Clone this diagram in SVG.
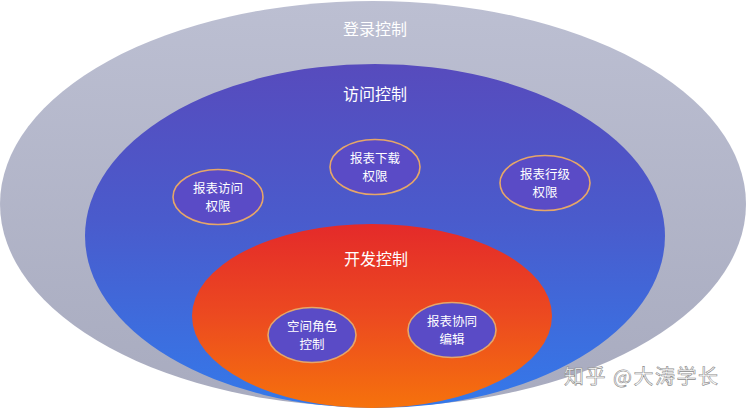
<svg xmlns="http://www.w3.org/2000/svg" width="746" height="408" viewBox="0 0 746 408">
<defs>
<linearGradient id="gOuter" x1="0" y1="0" x2="0" y2="1">
<stop offset="0" stop-color="#bcbfd2"/>
<stop offset="1" stop-color="#a8abbf"/>
</linearGradient>
<linearGradient id="gMid" x1="0" y1="0" x2="0" y2="1">
<stop offset="0" stop-color="#574bbd"/>
<stop offset="0.45" stop-color="#4a5bcc"/>
<stop offset="1" stop-color="#3479ea"/>
</linearGradient>
<linearGradient id="gInner" x1="0" y1="0" x2="0" y2="1">
<stop offset="0" stop-color="#e42a2a"/>
<stop offset="0.5" stop-color="#ec4a20"/>
<stop offset="1" stop-color="#f6720c"/>
</linearGradient>
<style>
.t{font-family:"Noto Sans CJK SC","Noto Sans",sans-serif;fill:#fff;text-anchor:middle}
.big{font-size:16px}
.sm{font-size:12.5px}
.node{fill:#5a4bc6;stroke:#e6a668;stroke-width:1.6}
.wm{font-family:"Noto Sans CJK SC",sans-serif;font-size:20px;fill:#fff;stroke:#8a8a8a;stroke-width:0.6;letter-spacing:1.5px}
</style>
</defs>
<rect width="746" height="408" fill="#fff"/>
<g id="login">
<ellipse cx="373" cy="204" rx="373" ry="203" fill="url(#gOuter)"/>
<text class="t big" x="375" y="35">登录控制</text>
</g>
<g id="access">
<ellipse cx="375" cy="236" rx="290" ry="172" fill="url(#gMid)"/>
<text class="t big" x="375" y="100">访问控制</text>
</g>
<g id="dev">
<ellipse cx="372" cy="316" rx="180" ry="92" fill="url(#gInner)"/>
<text class="t big" x="376" y="265">开发控制</text>
</g>
<g id="n1">
<ellipse class="node" cx="218" cy="197" rx="45" ry="27.5"/>
<text class="t sm" x="218" y="193">报表访问</text>
<text class="t sm" x="218" y="211">权限</text>
</g>
<g id="n2">
<ellipse class="node" cx="375" cy="167" rx="45" ry="27.5"/>
<text class="t sm" x="375" y="163">报表下载</text>
<text class="t sm" x="375" y="181">权限</text>
</g>
<g id="n3">
<ellipse class="node" cx="545" cy="183" rx="45" ry="27.5"/>
<text class="t sm" x="545" y="179">报表行级</text>
<text class="t sm" x="545" y="197">权限</text>
</g>
<g id="n4">
<ellipse class="node" cx="312" cy="335" rx="44" ry="27.5"/>
<text class="t sm" x="312" y="331">空间角色</text>
<text class="t sm" x="312" y="349">控制</text>
</g>
<g id="n5">
<ellipse class="node" cx="452" cy="330" rx="44" ry="27.5"/>
<text class="t sm" x="452" y="326">报表协同</text>
<text class="t sm" x="452" y="344">编辑</text>
</g>
<g id="connectors"></g>
<text class="wm" x="564" y="384">知乎 @大涛学长</text>
</svg>
